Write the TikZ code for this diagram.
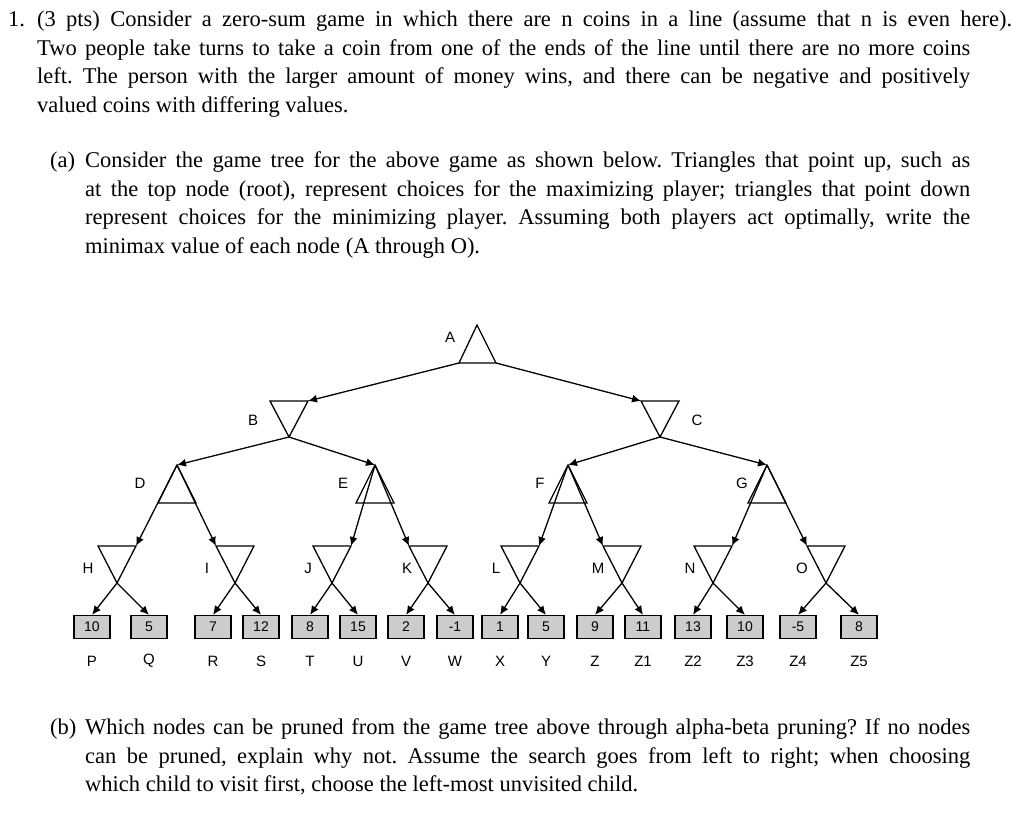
\documentclass[tikz,border=0pt]{standalone}
\usepackage{fontspec}
\setmainfont{Liberation Serif}
\newfontfamily\lbl{Liberation Sans}
\usetikzlibrary{arrows.meta}
\frenchspacing
\tikzset{
 txt/.style={anchor=base west,inner sep=0pt,font=\fontsize{22.5}{28}\selectfont},
 leaf/.style={draw,line width=1.2pt,fill=gray!40,minimum width=36pt,minimum height=23pt,inner sep=0pt,font=\lbl\fontsize{14}{16}\selectfont},
 nm/.style={inner sep=0pt,font=\lbl\fontsize{15}{17}\selectfont},
 tri/.style={line width=1.3pt},
 edge/.style={line width=1.3pt,-{Latex[length=9pt,width=8pt]}}
}
\newcommand{\jl}[2]{\hbox to #1pt{#2}}
\begin{document}
\begin{tikzpicture}[x=1pt,y=-1pt]
\useasboundingbox (0,0) rectangle (1024,819);
% text
\node[txt] (t1) at (8,26) {1.};
\node[txt] (t1b) at (37,26) {\jl{975}{(3 pts) Consider a zero-sum game in which there are n coins in a line (assume that n is even here).}};
\node[txt] (t2) at (37,55) {\jl{933}{Two people take turns to take a coin from one of the ends of the line until there are no more coins}};
\node[txt] (t3) at (37,83) {\jl{933}{left. The person with the larger amount of money wins, and there can be negative and positively}};
\node[txt] (t4) at (37,112) {valued coins with differing values.};
\node[txt] (a0) at (50,167) {(a)};
\node[txt] (a1) at (85,167) {\jl{885}{Consider the game tree for the above game as shown below. Triangles that point up, such as}};
\node[txt] (a2) at (85,196) {\jl{885}{at the top node (root), represent choices for the maximizing player; triangles that point down}};
\node[txt] (a3) at (85,224) {\jl{885}{represent choices for the minimizing player. Assuming both players act optimally, write the}};
\node[txt] (a4) at (85,253) {minimax value of each node (A through O).};
\node[txt] (b0) at (50,734) {(b)};
\node[txt] (b1) at (85,734) {\jl{885}{Which nodes can be pruned from the game tree above through alpha-beta pruning? If no nodes}};
\node[txt] (b2) at (85,763) {\jl{885}{can be pruned, explain why not. Assume the search goes from left to right; when choosing}};
\node[txt] (b3) at (85,791) {which child to visit first, choose the left-most unvisited child.};
% A
\coordinate (Aa) at (477,325); \coordinate (Al) at (459,363); \coordinate (Ar) at (496,363);
\draw[tri] (Aa)--(Al)--(Ar)--cycle;
\node[nm] (lA) at (450,337) {A};
% B, C
\foreach \n/\x in {B/289,C/660}{
 \coordinate (\n l) at (\x-19,401); \coordinate (\n r) at (\x+19,401); \coordinate (\n a) at (\x,437);
 \draw[tri] (\n l)--(\n r)--(\n a)--cycle;}
\node[nm] (lB) at (253,420) {B};
\node[nm] (lC) at (697,420) {C};
\draw[edge] (Al)--(Br);
\draw[edge] (Ar)--(Cl);
% level 2 max
\foreach \n/\x/\lx in {D/177/140,E/375/343,F/568/540,G/767/742}{
 \coordinate (\n a) at (\x,465); \coordinate (\n l) at (\x-19,503); \coordinate (\n r) at (\x+19,503);
 \draw[tri] (\n a)--(\n l)--(\n r)--cycle;
 \node[nm] (l\n) at (\lx,483) {\n};}
\draw[edge] (Ba)--(Da); \draw[edge] (Ba)--(Ea);
\draw[edge] (Ca)--(Fa); \draw[edge] (Ca)--(Ga);
% level 3 min
\foreach \n/\x/\lx in {H/117/88,I/235/207,J/332/308,K/428/407,L/520/496,M/622/598,N/713/690,O/826/802}{
 \coordinate (\n l) at (\x-19,546); \coordinate (\n r) at (\x+19,546); \coordinate (\n a) at (\x,583);
 \draw[tri] (\n l)--(\n r)--(\n a)--cycle;
 \node[nm] (l\n) at (\lx,568) {\n};}
\foreach \p/\h/\i in {D/H/I,E/J/K,F/L/M,G/N/O}{
 \draw[edge] (\p a)--(\h r); \draw[edge] (\p a)--(\i l);}
% leaves
\foreach \n/\x/\v/\pa in {P/92/10/H,Q/149/5/H,R/213/7/I,S/261/12/I,T/310/8/J,U/358/15/J,V/406/2/K,W/455/-1/K,X/500/1/L,Y/546/5/L,Z/595/9/M,Z1/643/11/M,Z2/693/13/N,Z3/745/10/N,Z4/798/-5/O,Z5/859/8/O}{
 \node[leaf] (\n) at (\x,627) {\v};
 \node[nm] (l\n) at (\x,661) {\n};
 \draw[edge] (\pa a)--(\n.north);}
\end{tikzpicture}
\end{document}
